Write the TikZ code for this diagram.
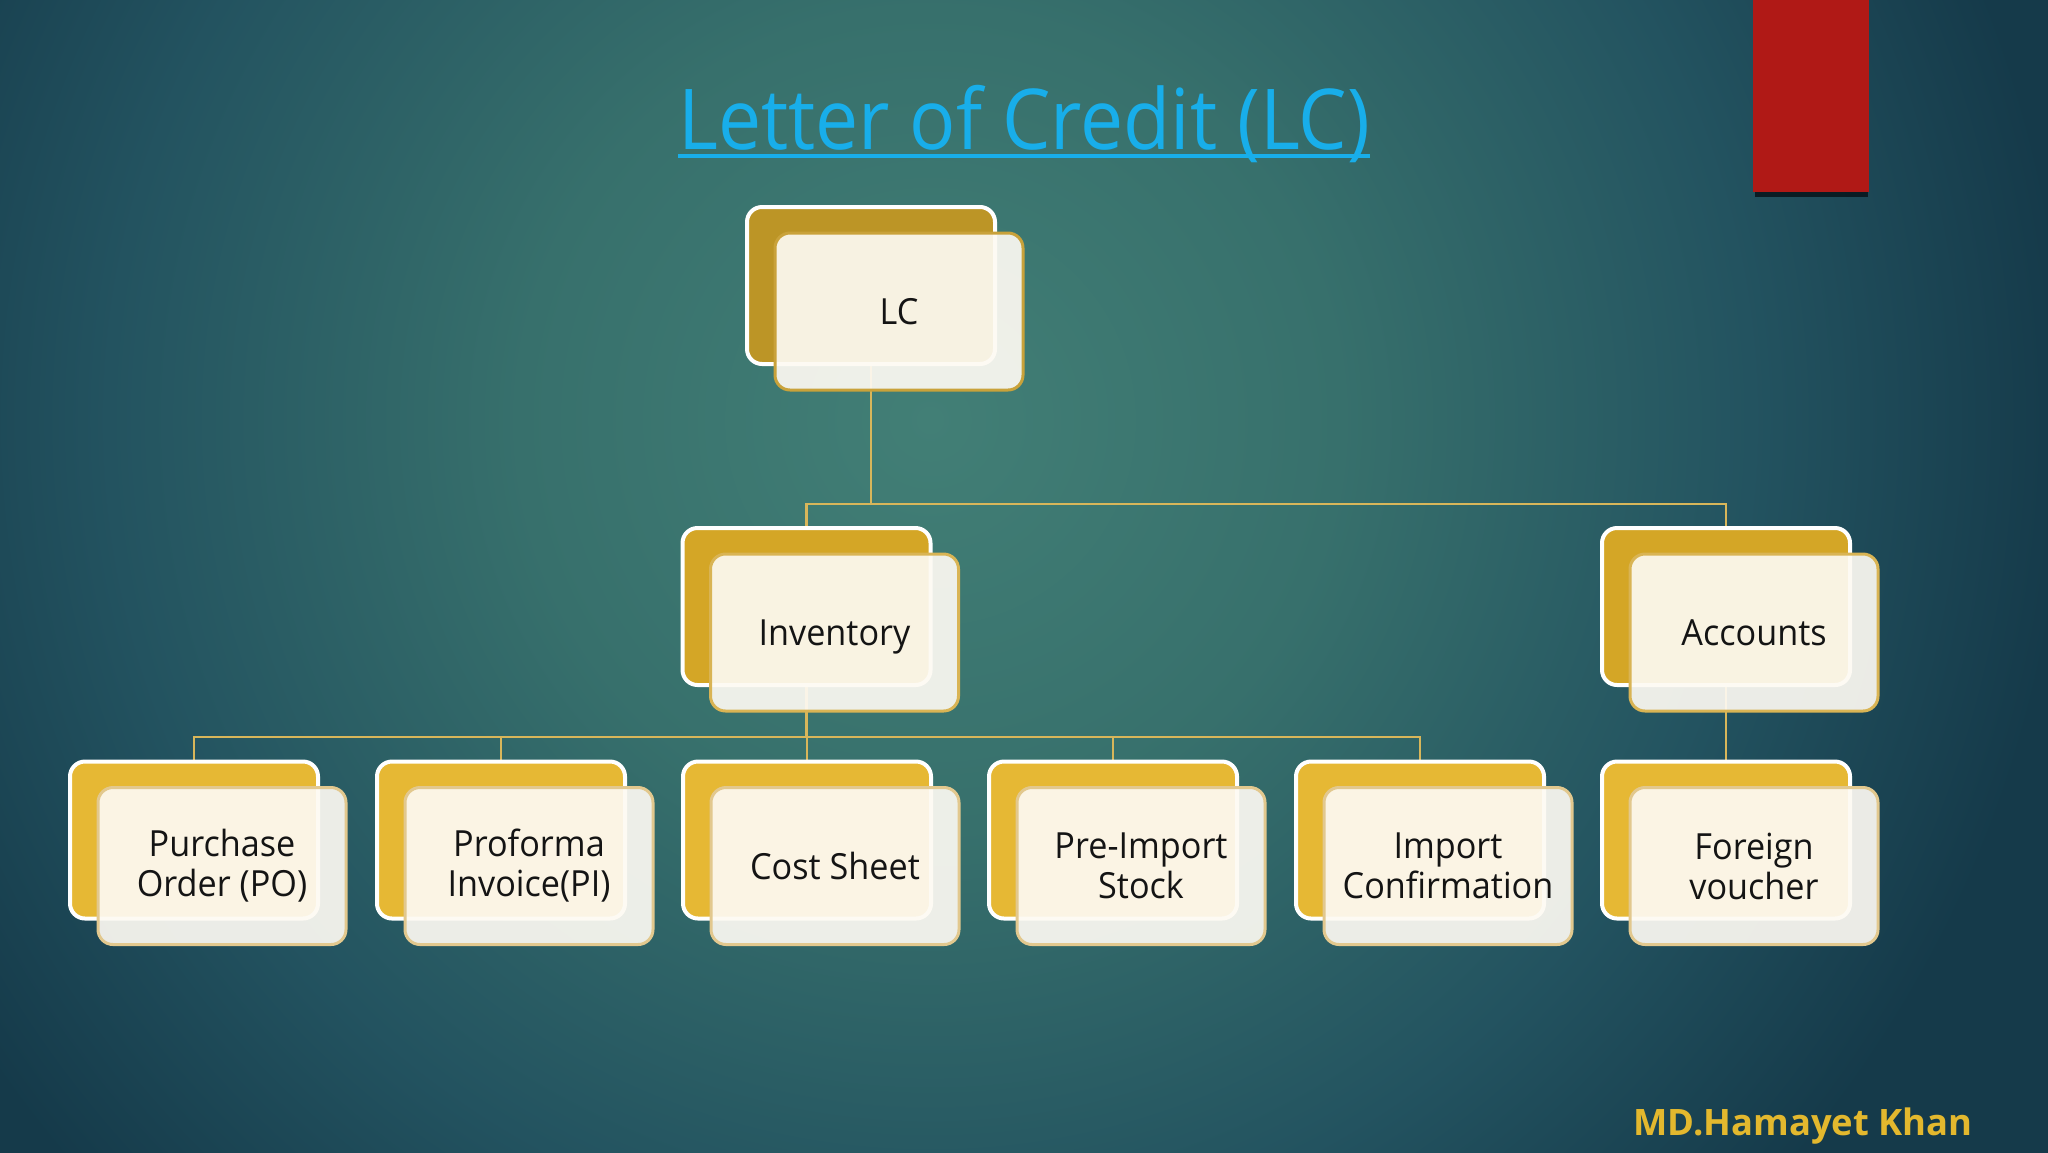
\documentclass[tikz,border=0pt]{standalone}
\usepackage{fontspec}
\setmainfont{Open Sans}
\newfontfamily\titlefont[FakeStretch=0.915]{Open Sans}
\newfontfamily\boxfont[FakeStretch=0.95]{Open Sans}
\pgfdeclarelayer{bgl}
\pgfdeclarelayer{links}
\pgfsetlayers{bgl,links,main}
\definecolor{bgin}{HTML}{427F76}
\definecolor{bgmid}{HTML}{37706C}
\definecolor{bgmid2}{HTML}{235360}
\definecolor{bgout}{HTML}{153A4A}
\definecolor{titleblue}{HTML}{18AEEA}
\definecolor{goldA}{HTML}{BC9526}
\definecolor{goldB}{HTML}{D4A626}
\definecolor{goldC}{HTML}{E6B834}
\definecolor{edgeA}{HTML}{C9A23A}
\definecolor{edgeB}{HTML}{D9B454}
\definecolor{edgeC}{HTML}{E2C88E}
\definecolor{frontfill}{HTML}{FDFAF3}
\definecolor{linkcol}{HTML}{D8B65A}
\definecolor{redbar}{HTML}{B01916}
\definecolor{wmgold}{HTML}{E3B82E}
\pgfdeclareradialshading{bgshade}{\pgfpoint{0bp}{0bp}}{color(0bp)=(bgin); color(9bp)=(bgmid); color(18bp)=(bgmid2); color(25bp)=(bgout); color(50bp)=(bgout)}
\tikzset{
  backbox/.style={rectangle, rounded corners=7.5pt, minimum width=124pt, minimum height=78.5pt, draw=white, line width=2pt, inner sep=0pt},
  frontbox/.style={rectangle, rounded corners=7.5pt, minimum width=124pt, minimum height=78.5pt, line width=1.5pt, fill=frontfill, fill opacity=0.92, text opacity=1, draw opacity=1, align=center, inner sep=0pt, font=\boxfont\fontsize{18}{20}\selectfont, text=black!92},
  link/.style={draw=linkcol, line width=1.4pt},
}
\newcommand\pairbox[7][]{%
  \node[backbox, fill=#5] (#2B) at (#3,#4) {};
  \node[frontbox, draw=#6, #1] (#2F) at ([xshift=14pt,yshift=-13pt]#2B.center) {#7};}
\begin{document}
\begin{tikzpicture}[x=0.5pt,y=-0.5pt]
\useasboundingbox (0,0) rectangle (2048,1152);
\begin{pgfonlayer}{bgl}
  \fill[bgout] (-20,-20) rectangle (2068,1172);
  \shade[shading=bgshade] (930,420) circle[radius=570pt];
\end{pgfonlayer}
% red bar
\fill[black!60!bgout, opacity=0.9] (1755,190) rectangle (1868,197);
\fill[redbar] (1753,-5) rectangle (1869,192);
% title
\node[anchor=base, inner sep=0pt, text=titleblue, font=\titlefont\fontsize{42}{50}\selectfont] (title) at (1024,149) {Letter of Credit (LC)};
\draw[titleblue, line width=2pt] ([yshift=-3.5pt]title.base west) -- ([yshift=-3.5pt]title.base east);
% boxes
\pairbox{lc}{871}{285.5}{goldA}{edgeA}{LC}
\pairbox[text depth=0pt]{inv}{806.5}{606.5}{goldB}{edgeB}{Inventory}
\pairbox{acc}{1726}{606.5}{goldB}{edgeB}{Accounts}
\pairbox{po}{194}{840}{goldC}{edgeC}{Purchase\\Order (PO)}
\pairbox{pi}{501}{840}{goldC}{edgeC}{Proforma\\Invoice(PI)}
\pairbox{cs}{807}{840}{goldC}{edgeC}{Cost Sheet}
\pairbox{ps}{1113}{840}{goldC}{edgeC}{Pre-Import\\Stock}
\pairbox{ic}{1420}{840}{goldC}{edgeC}{Import\\Confirmation}
\pairbox{fv}{1726}{840}{goldC}{edgeC}{Foreign\\voucher}
% connectors
\begin{pgfonlayer}{links}
  \coordinate (j1) at (871,504);
  \coordinate (j2) at (806.5,737);
  \draw[link] (lcB.south) -- (j1);
  \draw[link] (invB.north) |- (j1) -| (accB.north);
  \draw[link] (invB.south) -- (j2);
  \draw[link] (poB.north) |- (j2) -| (icB.north);
  \draw[link] (piB.north) -- (piB.north |- j2);
  \draw[link] (csB.north) -- (csB.north |- j2);
  \draw[link] (psB.north) -- (psB.north |- j2);
  \draw[link] (accB.south) -- (fvB.north);
\end{pgfonlayer}
% watermark
\node[inner sep=0pt, text=wmgold, font=\bfseries\fontsize{18.2}{22}\selectfont] (wm) at (1803,1126) {MD.Hamayet Khan};
\end{tikzpicture}
\end{document}
